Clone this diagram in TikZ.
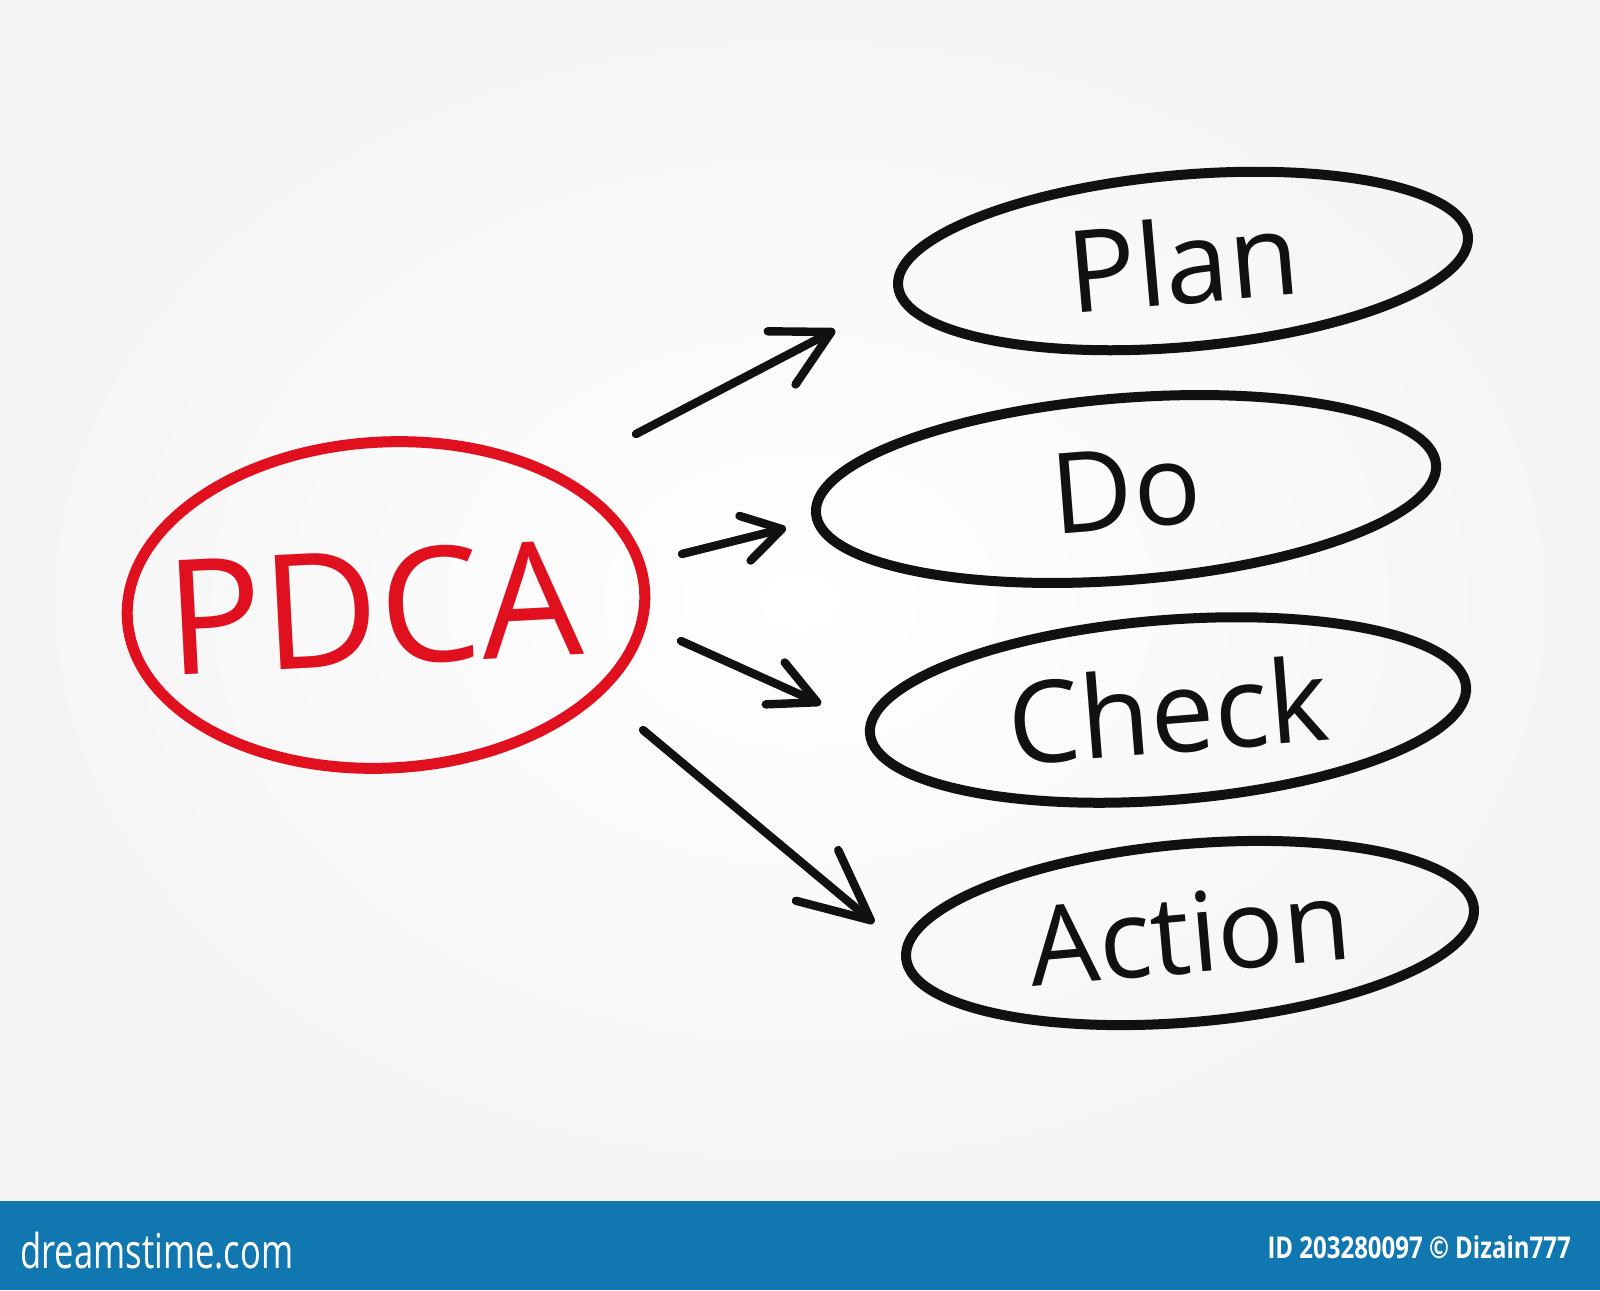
\documentclass[tikz,border=0pt]{standalone}
\usepackage{fontspec}
\setmainfont{Open Sans}
\usetikzlibrary{arrows.meta,shapes.geometric}
\definecolor{pdcared}{HTML}{E0101E}
\definecolor{barblue}{HTML}{1177B0}
\definecolor{ink}{HTML}{111111}
\begin{document}
\begin{tikzpicture}[x=0.5pt,y=-0.5pt,
  oval/.style={draw=ink, line width=5pt, ellipse, inner sep=0pt, text=ink},
  pen/.style={draw=ink, line width=4.2pt, line cap=round, line join=round},
  barbtip/.style n args={2}{-{Straight Barb[length=#1, width=#2, round]}},
  bartext/.style={text=white, inner sep=0pt}
]
% background
\useasboundingbox (0,0) rectangle (1600,1290);
\shade[inner color=white, outer color=black!4] (0,0) rectangle (1600,1201);
\fill[barblue] (0,1201) rectangle (1600,1290);

% PDCA
\node[ellipse, draw=pdcared, line width=5.5pt, inner sep=0pt, rotate=3,
      minimum width=259pt, minimum height=163pt] (pdca) at (386,605) {};
\node[text=pdcared, inner sep=0pt, rotate=3, font=\fontsize{80}{90}\selectfont] (pdcatext) at (374,608) {PDCA};

% targets
\node[oval, rotate=5, minimum width=286pt, minimum height=86pt, font=\fontsize{57}{66}\selectfont] (plan) at (1183,261) {Plan};
\node[oval, rotate=4.5, minimum width=311pt, minimum height=91pt, font=\fontsize{56}{66}\selectfont] (do) at (1126,489) {Do};
\node[oval, rotate=4.5, minimum width=299pt, minimum height=90pt, font=\fontsize{57}{66}\selectfont] (check) at (1168,710) {Check};
\node[oval, rotate=5, minimum width=285pt, minimum height=89pt, font=\fontsize{55}{66}\selectfont] (action) at (1190,933) {Action};

% arrow ends
\coordinate (t1) at (636,434); \coordinate (h1) at (835,330);
\coordinate (t2) at (682,554); \coordinate (h2) at (786,528);
\coordinate (t3) at (681,641); \coordinate (h3) at (821,704);
\coordinate (t4) at (643,730); \coordinate (h4) at (874,923);

\draw[pen, barbtip={28pt}{30pt}] (t1) -- (h1);
\draw[pen, barbtip={19pt}{23pt}] (t2) -- (h2);
\draw[pen, barbtip={23pt}{23pt}] (t3) -- (h3);
\draw[pen, barbtip={35pt}{33pt}] (t4) -- (h4);

% footer
\node[bartext, anchor=west, font=\fontsize{24}{28}\selectfont, xscale=0.72] (logo) at (20,1251) {dreamstime.com};
\node[bartext, anchor=east, font=\bfseries\fontsize{15}{18}\selectfont, xscale=0.8] (credit) at (1571,1247) {ID 203280097 © Dizain777};
\end{tikzpicture}
\end{document}
